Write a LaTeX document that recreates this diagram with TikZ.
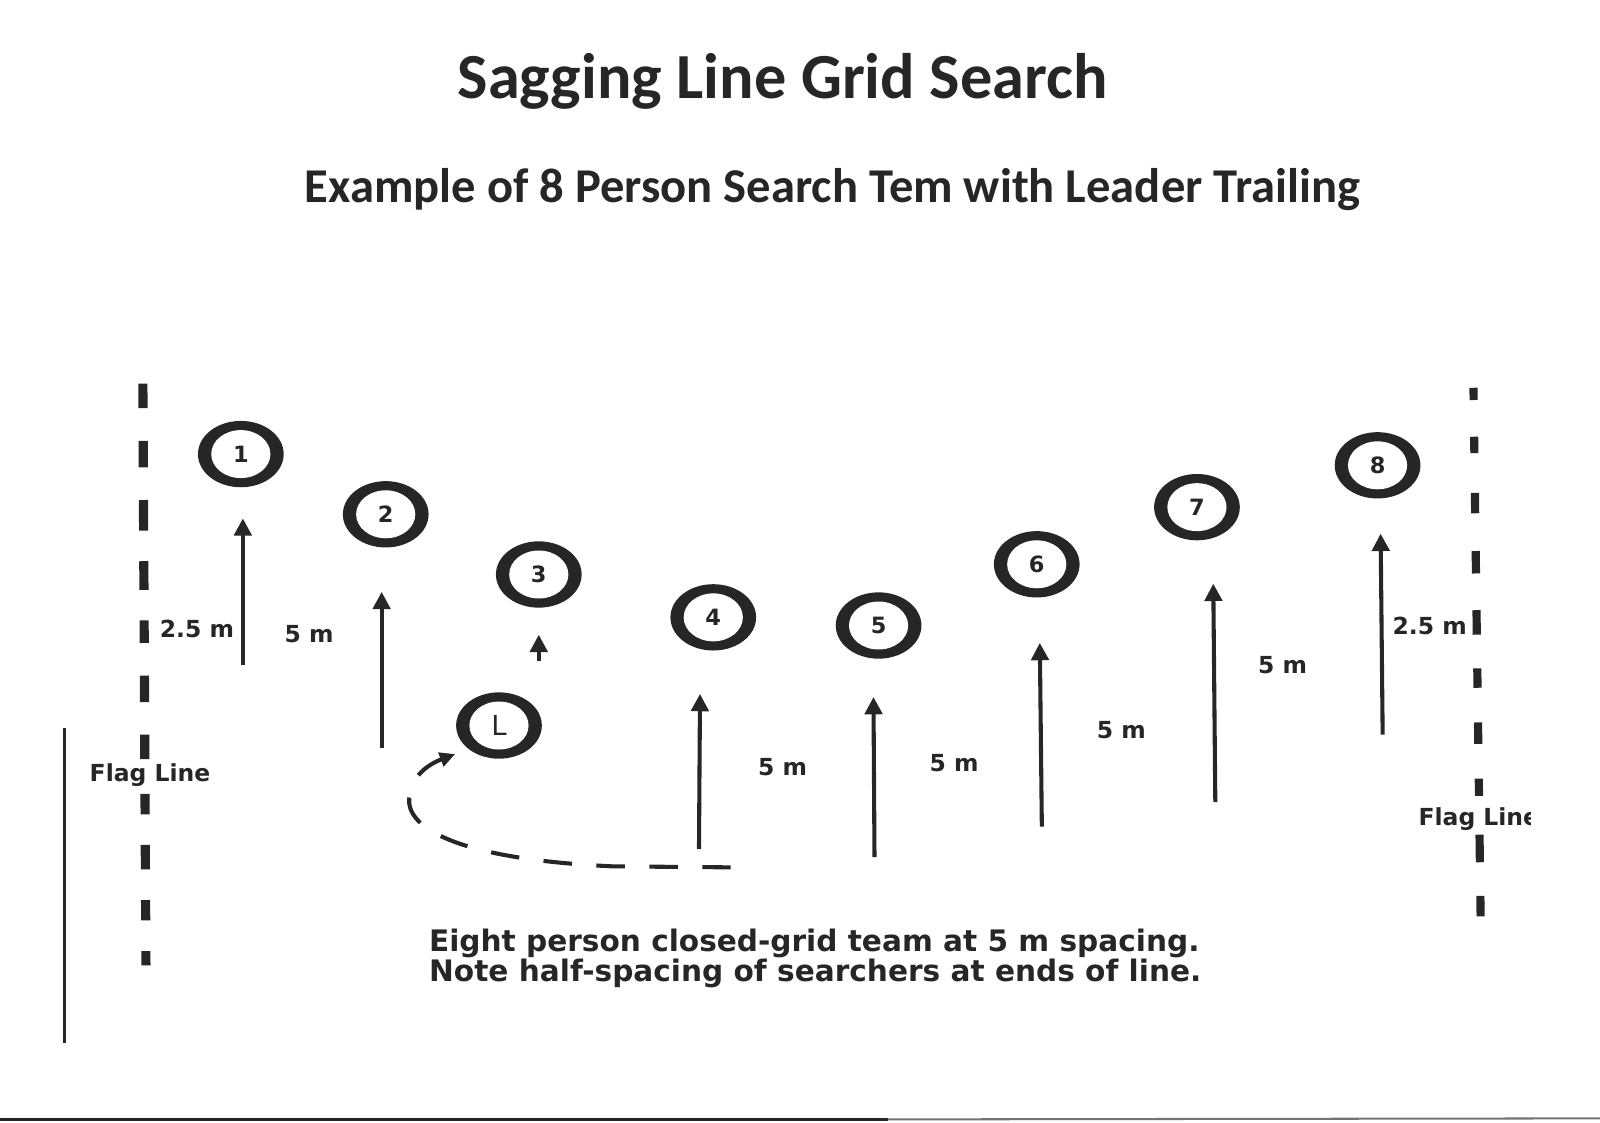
\documentclass[tikz,border=0pt]{standalone}
\usepackage{fontspec}
\setmainfont{DejaVu Sans}
\newfontfamily\titlefont{Carlito}
\usetikzlibrary{arrows.meta,shapes.geometric}
\colorlet{ink}{black!85}
\begin{document}
\begin{tikzpicture}[x=1pt,y=-1pt,
  person/.style={ellipse,fill=ink,draw=none,minimum width=84pt,minimum height=65pt,inner sep=0pt,
    text=ink,font=\fontsize{22}{22}\selectfont\bfseries,
    path picture={\fill[white] (path picture bounding box.center) ellipse [x radius=29pt, y radius=23.5pt];}},
  walk/.style={draw=ink,line width=4pt,-{Triangle[length=17pt,width=17pt]}},
  dist/.style={font=\fontsize{23}{23}\selectfont\bfseries,text=ink,anchor=base,inner sep=0pt},
  capt/.style={font=\fontsize{29}{29}\selectfont\bfseries,text=ink,anchor=base,inner sep=0pt},
  flagdash/.style={draw=ink,line width=9pt},
]
\useasboundingbox (0,0) rectangle (1568,1100.5);

% titles
\node[anchor=base,inner sep=0pt,text=ink,font=\titlefont\bfseries\fontsize{63}{63}\selectfont] (title) at (767,97) {Sagging Line Grid Search};
\node[anchor=base,inner sep=0pt,text=ink,font=\titlefont\bfseries\fontsize{47.6}{47.6}\selectfont] (subtitle) at (816,198) {Example of 8 Person Search Tem with Leader Trailing};

% flag lines (dashed)
\foreach \a/\b in {376/400,432/458,490/520,550/578,608/630,662/688,720/744,778/798,828/852,882/902,932/946}
  \draw[flagdash] ({140+3*(\a-376)/570},\a) -- ({140+3*(\b-376)/570},\b);
\foreach \a/\b in {380/392,428/444,483/503,540/562,598/622,655/674,708/729,763/780,818/845,878/898}
  \draw[flagdash,line width=8pt] ({1444+7*(\a-380)/518},\a) -- ({1444+7*(\b-380)/518},\b);

% scan edges
\draw[ink,line width=2.5pt] (63,713) -- (63,1022);
\draw[ink,line width=2.5pt] (0,1097) -- (870,1097);
\draw[black!55,line width=2pt] (870,1097) -- (1568,1096);

% searchers
\node[person] (p1) at (236,445) {1};
\node[person] (p2) at (378,504) {2};
\node[person] (p3) at (528,563) {3};
\node[person] (p4) at (699,605) {4};
\node[person] (p5) at (861,613) {5};
\node[person] (p6) at (1016,553) {6};
\node[person] (p7) at (1173,497) {7};
\node[person] (p8) at (1350,456) {8};
\node[person,font=\fontsize{27}{27}\selectfont] (lead) at (489,711) {L};

% movement arrows
\coordinate (a1s) at (238,652);  \coordinate (a1e) at (238,508);
\coordinate (a2s) at (374,733);  \coordinate (a2e) at (374,580);
\coordinate (a3s) at (528,648);  \coordinate (a3e) at (528,622);
\coordinate (a4s) at (685,832);  \coordinate (a4e) at (686,680);
\coordinate (a5s) at (857,840);  \coordinate (a5e) at (856,683);
\coordinate (a6s) at (1021,810); \coordinate (a6e) at (1019,630);
\coordinate (a7s) at (1191,786); \coordinate (a7e) at (1189,572);
\coordinate (a8s) at (1355,720); \coordinate (a8e) at (1353,523);
\foreach \i in {1,...,8} \draw[walk] (a\i s) -- (a\i e);

% leader trailing path
\coordinate (trailend) at (446,739);
\coordinate (trailstart) at (716,850);
\draw[ink,line width=4pt,dash pattern=on 28pt off 24pt,{Triangle[length=15pt,width=14pt]}-]
  (trailend) .. controls (420,749) and (403,760) .. (401,782)
  .. controls (398,812) and (450,842) .. (600,849) -- (trailstart);

% distance labels
\node[dist] (d1) at (193,625) {2.5 m};
\node[dist] (d2) at (303,630) {5 m};
\node[dist] (d3) at (767,760) {5 m};
\node[dist] (d4) at (935,756) {5 m};
\node[dist] (d5) at (1099,724) {5 m};
\node[dist] (d6) at (1257,660) {5 m};
\node[dist] (d7) at (1401,622) {2.5 m};

% flag line labels
\node[dist] (fl1) at (147,766) {Flag Line};
\begin{scope}
  \clip (1300,700) rectangle (1500,900);
  \node[dist,anchor=base west] (fl2) at (1390,809) {Flag Line};
\end{scope}

% caption
\node[capt] (cap1) at (798,932) {Eight person closed-grid team at 5 m spacing.};
\node[capt] (cap2) at (799,962) {Note half-spacing of searchers at ends of line.};
\end{tikzpicture}
\end{document}
